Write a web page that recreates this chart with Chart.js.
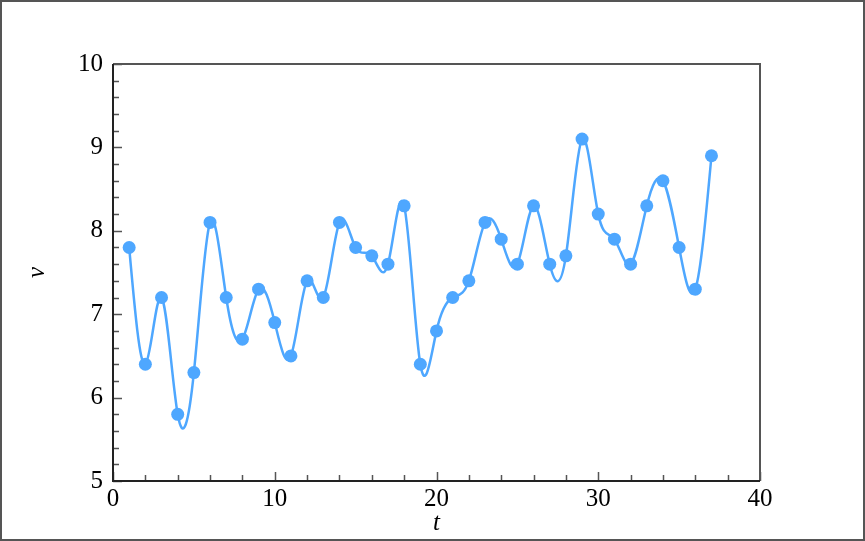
<!DOCTYPE html>
<html>
<head>
<meta charset="utf-8">
<script src="https://cdn.jsdelivr.net/npm/chart.js@4/dist/chart.umd.min.js"></script>
<style>
  html, body { margin: 0; padding: 0; background: #fff; }
  #wrap { width: 865px; height: 541px; }
</style>
</head>
<body>
<div id="wrap"><canvas id="myChart" width="865" height="541"></canvas></div>
<script>
// time steps and measured values
const tValues = [1, 2, 3, 4, 5, 6, 7, 8, 9, 10, 11, 12, 13, 14, 15, 16, 17, 18, 19,
                 20, 21, 22, 23, 24, 25, 26, 27, 28, 29, 30, 31, 32, 33, 34, 35, 36, 37];
const vValues = [7.8, 6.4, 7.2, 5.8, 6.3, 8.1, 7.2, 6.7, 7.3, 6.9, 6.5, 7.4, 7.2, 8.1, 7.8, 7.7, 7.6, 8.3, 6.4,
                 6.8, 7.2, 7.4, 8.1, 7.9, 7.6, 8.3, 7.6, 7.7, 9.1, 8.2, 7.9, 7.6, 8.3, 8.6, 7.8, 7.3, 8.9];
const xTicks = [0, 10, 20, 30, 40];
const yTicks = [5, 6, 7, 8, 9, 10];

const blue = '#4ea7ff';
const serif = '"Liberation Serif", "Times New Roman", serif';

// slopes of a natural cubic spline y(x)
function splineSlopes(xs, ys) {
    const n = xs.length;
    const h = [], a = [], b = [], c = [], d = [];
    for (let i = 0; i < n - 1; i++) h[i] = xs[i + 1] - xs[i];
    // second derivatives M, natural ends
    for (let i = 0; i < n; i++) {
        if (i === 0 || i === n - 1) { a[i] = 0; b[i] = 1; c[i] = 0; d[i] = 0; continue; }
        a[i] = h[i - 1];
        b[i] = 2 * (h[i - 1] + h[i]);
        c[i] = h[i];
        d[i] = 6 * ((ys[i + 1] - ys[i]) / h[i] - (ys[i] - ys[i - 1]) / h[i - 1]);
    }
    for (let i = 1; i < n; i++) {
        const w = a[i] / b[i - 1];
        b[i] -= w * c[i - 1];
        d[i] -= w * d[i - 1];
    }
    const M = new Array(n);
    M[n - 1] = d[n - 1] / b[n - 1];
    for (let i = n - 2; i >= 0; i--) M[i] = (d[i] - c[i] * M[i + 1]) / b[i];
    const m = [];
    for (let i = 0; i < n - 1; i++) {
        m[i] = (ys[i + 1] - ys[i]) / h[i] - h[i] * (2 * M[i] + M[i + 1]) / 6;
    }
    const k = n - 2;
    m[n - 1] = (ys[n - 1] - ys[k]) / h[k] + h[k] * (M[k] + 2 * M[n - 1]) / 6;
    return m;
}

// replace chart.js bezier control points with natural spline ones
const splinePlugin = {
    id: 'spline',
    beforeDatasetDraw(chart, args) {
        const meta = args.meta;
        const line = meta.dataset;
        const { x, y } = chart.scales;
        line.updateControlPoints(chart.chartArea);
        const m = splineSlopes(tValues, vValues);
        const pts = meta.data;
        for (let i = 0; i < pts.length; i++) {
            const p = pts[i];
            if (i > 0) {
                const hh = (tValues[i] - tValues[i - 1]) / 3;
                p.cp1x = x.getPixelForValue(tValues[i] - hh);
                p.cp1y = y.getPixelForValue(vValues[i] - m[i] * hh);
            }
            if (i < pts.length - 1) {
                const hh = (tValues[i + 1] - tValues[i]) / 3;
                p.cp2x = x.getPixelForValue(tValues[i] + hh);
                p.cp2y = y.getPixelForValue(vValues[i] + m[i] * hh);
            }
        }
    }
};

// inward ticks, frame and page border (tecplot look)
const framePlugin = {
    id: 'frame',
    afterDraw(chart) {
        const { ctx, chartArea: a, scales: { x, y } } = chart;
        ctx.save();
        ctx.strokeStyle = '#555';
        ctx.lineWidth = 1.5;
        ctx.beginPath();
        for (let v = 0; v <= 40; v += 2) {
            const px = Math.round(x.getPixelForValue(v)) + 0.5;
            const len = v % 10 === 0 ? 9 : 6;
            ctx.moveTo(px, a.bottom);
            ctx.lineTo(px, a.bottom - len);
        }
        for (let i = 0; i <= 25; i++) {
            const v = 5 + i * 0.2;
            const py = Math.round(y.getPixelForValue(v)) + 0.5;
            const len = i % 5 === 0 ? 9 : 6;
            ctx.moveTo(a.left, py);
            ctx.lineTo(a.left + len, py);
        }
        ctx.stroke();

        ctx.lineWidth = 2;
        ctx.strokeStyle = '#555';
        ctx.beginPath();
        ctx.moveTo(a.left, a.top);
        ctx.lineTo(a.right, a.top);
        ctx.lineTo(a.right, a.bottom);
        ctx.stroke();
        ctx.strokeStyle = '#222';
        ctx.beginPath();
        ctx.moveTo(a.left, a.top);
        ctx.lineTo(a.left, a.bottom);
        ctx.lineTo(a.right, a.bottom);
        ctx.stroke();

        ctx.strokeStyle = '#555';
        ctx.lineWidth = 2;
        ctx.strokeRect(1, 1, chart.width - 2, chart.height - 2);
        ctx.restore();
    }
};

const ctx = document.getElementById('myChart').getContext('2d');
new Chart(ctx, {
    type: 'line',
    data: {
        datasets: [{
            data: tValues.map((t, i) => ({ x: t, y: vValues[i] })),
            borderColor: blue,
            backgroundColor: blue,
            borderWidth: 2.5,
            pointRadius: 6.5,
            pointHoverRadius: 6.5,
            pointBorderWidth: 0,
            tension: 0.4,
            fill: false,
        }]
    },
    options: {
        responsive: false,
        animation: false,
        events: [],
        layout: { padding: { left: 0, right: 105, top: 64, bottom: 0 } },
        plugins: {
            legend: { display: false },
            tooltip: { enabled: false }
        },
        scales: {
            x: {
                type: 'linear',
                min: 0, max: 40,
                afterFit(scale) { scale.height = 60; },
                afterBuildTicks(scale) { scale.ticks = xTicks.map(v => ({ value: v })); },
                grid: { display: false, drawTicks: false },
                border: { display: false },
                ticks: {
                    color: '#000',
                    padding: 3,
                    maxRotation: 0,
                    font: { family: serif, size: 25 }
                },
                title: {
                    display: true, text: 't', color: '#000',
                    padding: { top: 0, bottom: 3 },
                    font: { family: serif, size: 25, style: 'italic' }
                }
            },
            y: {
                min: 5, max: 10,
                afterFit(scale) { scale.width = 113; },
                afterBuildTicks(scale) { scale.ticks = yTicks.map(v => ({ value: v })); },
                grid: { display: false, drawTicks: false },
                border: { display: false },
                ticks: {
                    color: '#000',
                    padding: 10,
                    font: { family: serif, size: 25 }
                },
                title: {
                    display: true, text: 'v', color: '#000',
                    padding: { top: 22, bottom: 0 },
                    font: { family: serif, size: 25, style: 'italic' }
                }
            }
        }
    },
    plugins: [splinePlugin, framePlugin]
});
</script>
</body>
</html>
